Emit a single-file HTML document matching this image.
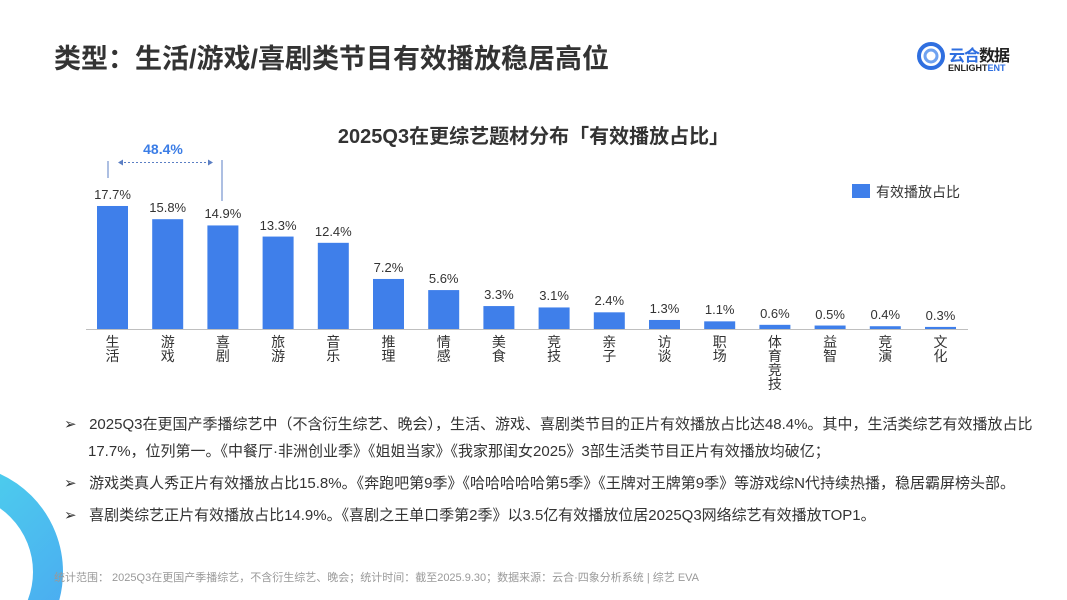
<!DOCTYPE html>
<html style="overflow:hidden"><head><meta charset="utf-8"><style>
html,body{margin:0;width:1067px;height:600px;overflow:hidden}
body{background:#fff;font-family:"Liberation Sans","Noto Sans CJK SC",sans-serif;position:relative}
.t{position:absolute;white-space:nowrap}
</style></head><body>
<svg width="1067" height="600" style="position:absolute;left:0;top:0">
<defs><linearGradient id="g" x1="0" y1="0" x2="1" y2="1"><stop offset="0" stop-color="#4ee0ea"/><stop offset="1" stop-color="#4aa6f2"/></linearGradient></defs>
<circle cx="-45" cy="572" r="93" fill="none" stroke="url(#g)" stroke-width="30"/>
<line x1="86" y1="329.5" x2="968" y2="329.5" stroke="#bfbfbf" stroke-width="1"/>
<g fill="#3f7fea" id="bars"></g>
<line x1="108" y1="161" x2="108" y2="178" stroke="#5b7fc4" stroke-width="1"/>
<line x1="222" y1="160" x2="222" y2="201" stroke="#5b7fc4" stroke-width="1"/>
<line x1="120" y1="162.5" x2="211" y2="162.5" stroke="#5b7fc4" stroke-width="1" stroke-dasharray="2,2"/>
<path d="M118 162.5 l5 -3 v6z M213 162.5 l-5 -3 v6z" fill="#5b7fc4"/>
<text x="163" y="154" text-anchor="middle" font-family="Liberation Sans,sans-serif" font-weight="bold" font-size="14" fill="#3b7de6">48.4%</text>
<rect x="852" y="184" width="18" height="14" fill="#3f7fea"/>
<circle cx="931" cy="56" r="12" fill="none" stroke="#2f6fe0" stroke-width="4"/>
<circle cx="931" cy="56" r="6" fill="none" stroke="#6fa2f0" stroke-width="3"/>
</svg>
<div class="t" style="left:54px;top:37px;font-size:27px;font-weight:bold;color:#333">类型：生活/游戏/喜剧类节目有效播放稳居高位</div>
<div class="t" style="left:949px;top:42px;font-size:16px;font-weight:bold;color:#2f6fe0;letter-spacing:-1px">云合<span style="color:#222">数据</span></div>
<div class="t" style="left:948px;top:63px;font-size:9px;font-weight:bold;color:#222">ENLIGHT<span style="color:#2f6fe0">ENT</span></div>
<div class="t" style="left:0;width:1067px;text-align:center;top:120px;font-size:20px;font-weight:bold;color:#333">2025Q3在更综艺题材分布「有效播放占比」</div>
<div class="t" style="left:876px;top:182px;font-size:14px;color:#333">有效播放占比</div>
<div id="lab"></div>
<div class="t" style="left:64px;top:411px;font-size:15px;color:#333;line-height:27px">
<div>➢&nbsp;&nbsp;&nbsp;2025Q3在更国产季播综艺中（不含衍生综艺、晚会），生活、游戏、喜剧类节目的正片有效播放占比达48.4%。其中，生活类综艺有效播放占比</div>
<div style="padding-left:24px">17.7%，位列第一。《中餐厅·非洲创业季》《姐姐当家》《我家那闺女2025》3部生活类节目正片有效播放均破亿；</div>
<div style="margin-top:5px">➢&nbsp;&nbsp;&nbsp;游戏类真人秀正片有效播放占比15.8%。《奔跑吧第9季》《哈哈哈哈哈第5季》《王牌对王牌第9季》等游戏综N代持续热播，稳居霸屏榜头部。</div>
<div style="margin-top:5px">➢&nbsp;&nbsp;&nbsp;喜剧类综艺正片有效播放占比14.9%。《喜剧之王单口季第2季》以3.5亿有效播放位居2025Q3网络综艺有效播放TOP1。</div>
</div>
<div class="t" style="left:54px;top:569px;font-size:11px;color:#999">统计范围： 2025Q3在更国产季播综艺，不含衍生综艺、晚会；统计时间：截至2025.9.30；数据来源：云合·四象分析系统 | 综艺 EVA</div>
<script>
var d=[["生活",17.7],["游戏",15.8],["喜剧",14.9],["旅游",13.3],["音乐",12.4],["推理",7.2],["情感",5.6],["美食",3.3],["竞技",3.1],["亲子",2.4],["访谈",1.3],["职场",1.1],["体育竞技",0.6],["益智",0.5],["竞演",0.4],["文化",0.3]];
var g=document.getElementById('bars'),L=document.getElementById('lab'),h='',s='';
d.forEach(function(e,i){var c=112.5+i*55.2,hh=e[1]*6.95,top=329-hh;
s+='<rect x="'+(c-15.5)+'" y="'+top+'" width="31" height="'+hh+'"/>';
h+='<div class="t" style="left:'+(c-30)+'px;width:60px;text-align:center;top:'+(top-19)+'px;font-size:13px;color:#333">'+e[1].toFixed(1)+'%</div>';
h+='<div class="t" style="left:'+(c-9)+'px;width:18px;text-align:center;top:335px;font-size:14px;line-height:14px;color:#333;white-space:normal">'+e[0].split('').join('<br>')+'</div>';});
g.innerHTML=s;L.innerHTML=h;
</script>
</body></html>
